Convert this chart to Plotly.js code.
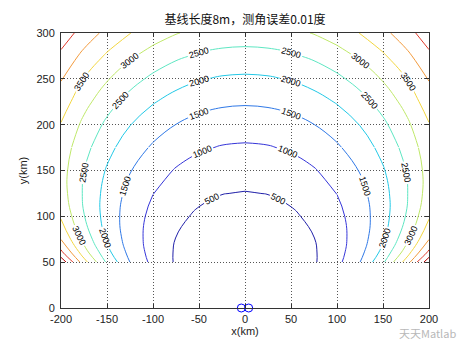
<!DOCTYPE html>
<html>
<head>
<meta charset="utf-8">
<script src="https://cdn.plot.ly/plotly-3.0.1.min.js"></script>
<style>html,body{margin:0;padding:0;background:#fff;}#chart{width:474px;height:354px;}</style>
</head>
<body>
<div id="chart"></div>
<script>
// Grid of x (km) and y (km) positions
var xKm = [-200,-175,-150,-125,-100,-75,-50,-25,0,25,50,75,100,125,150,175,200];
var yKm = [50,60,75,100,125,150,175,200,225,250,275,300];
// Position error (m) read/estimated from the reference contours, one row per y
var errRows = [
  [5377,3700,2426,1498,858,449,217,107,77,107,217,449,858,1498,2426,3700,5377],
  [4656,3238,2157,1363,811,453,244,140,110,140,244,453,811,1363,2157,3238,4656],
  [3988,2824,1930,1267,799,488,300,202,173,202,300,488,799,1267,1930,2824,3988],
  [3431,2513,1798,1259,868,599,429,336,307,336,429,599,868,1259,1798,2513,3431],
  [3221,2442,1828,1356,1007,760,599,509,480,509,599,760,1007,1356,1828,2442,3221],
  [3197,2505,1953,1523,1199,965,809,719,690,719,809,965,1199,1523,1953,2505,3197],
  [3291,2658,2147,1744,1436,1210,1057,969,940,969,1057,1210,1436,1744,2147,2658,3291],
  [3472,2880,2397,2013,1715,1495,1344,1256,1228,1256,1344,1495,1715,2013,2397,2880,3472],
  [3759,3159,2697,2326,2036,1820,1670,1582,1554,1582,1670,1820,2036,2326,2697,3159,3759],
  [4028,3488,3042,2680,2396,2183,2034,1947,1918,1947,2034,2183,2396,2680,3042,3488,4028],
  [4388,3865,3430,3076,2796,2584,2437,2350,2321,2350,2437,2584,2796,3076,3430,3865,4388],
  [4795,4285,3860,3511,3235,3025,2878,2791,2762,2791,2878,3025,3235,3511,3860,4285,4795]
];
// Contour levels and their line colours
var levels = [500,1000,1500,2000,2500,3000,3500,4000,4500,5000];
var levelColors = ['#1f1fa8','#3535d8','#2f78e6','#22c8e6','#5ee6c2','#bfe86a','#f2d640','#f29a3c','#e23c2c','#b80000'];
// Baseline stations (km)
var stationX = [-4, 4];
var stationY = [0, 0];
var xTicks = [-200,-150,-100,-50,0,50,100,150,200];
var yTicks = [0,50,100,150,200,250,300];
// Tiles [x0, x1, y0, y1] (km) the field is split into, so each line piece gets its own inline label
var tiles = [
  [-200, -100, 50, 175], [-200, -100, 175, 300],
  [-100, 0, 50, 300], [0, 100, 50, 300],
  [100, 200, 50, 175], [100, 200, 175, 300]
];

var lo = levels[0], hi = levels[levels.length-1];
var cscale = levels.map(function(l,i){ return [(l-lo)/(hi-lo), levelColors[i]]; });

function tileTrace(t) {
  var i0 = xKm.indexOf(t[0]), i1 = xKm.indexOf(t[1]);
  var j0 = yKm.indexOf(t[2]), j1 = yKm.indexOf(t[3]);
  return {
    type: 'contour',
    x: xKm.slice(i0, i1 + 1), y: yKm.slice(j0, j1 + 1),
    z: errRows.slice(j0, j1 + 1).map(function(r){ return r.slice(i0, i1 + 1); }),
    zmin: lo, zmax: hi, colorscale: cscale, showscale: false,
    contours: {coloring: 'lines', start: lo, end: hi, size: levels[1]-levels[0],
      showlabels: true, labelfont: {family: 'Liberation Sans, Arial, sans-serif', size: 9, color: '#000'}},
    line: {width: 1, smoothing: 1.3},
    hoverinfo: 'skip'
  };
}
var traces = tiles.map(tileTrace);
traces.push({
  type: 'scatter', mode: 'markers', x: stationX, y: stationY,
  marker: {symbol: 'circle-open', size: 8, color: '#0000ff', line: {width: 1, color: '#0000ff'}},
  cliponaxis: false, hoverinfo: 'skip'
});
var axFont = {family: 'Liberation Sans, Arial, sans-serif', size: 11, color: '#222'};
var gridStyle = {showgrid: true, gridcolor: '#555', griddash: '1px,2px', gridwidth: 1, zeroline: false};
var layout = {
  width: 474, height: 354,
  margin: {l: 61, r: 45, t: 33, b: 46},
  paper_bgcolor: '#fff', plot_bgcolor: '#fff',
  showlegend: false,
  title: {text: '基线长度8m，测角误差0.01度', font: {family: 'Noto Sans CJK SC, sans-serif', size: 12, color: '#111'},
    xref: 'paper', x: 0.5, xanchor: 'center', yref: 'container', y: 0.944, yanchor: 'middle'},
  xaxis: Object.assign({range: [-200, 200], tickvals: xTicks, ticktext: xTicks.map(String), ticks: 'inside', ticklen: 4,
    tickcolor: '#333', showline: true, linecolor: '#333', linewidth: 1, mirror: 'ticks', ticklabelstandoff: 1,
    tickfont: axFont, title: {text: 'x(km)', font: axFont, standoff: 3}}, gridStyle),
  yaxis: Object.assign({range: [0, 300], tickvals: yTicks, ticktext: yTicks.map(String), ticks: 'inside', ticklen: 4,
    tickcolor: '#333', showline: true, linecolor: '#333', linewidth: 1, mirror: 'ticks', ticklabelstandoff: 3,
    tickfont: axFont, title: {text: 'y(km)', font: axFont, standoff: 6}}, gridStyle),
  annotations: [{text: '天天Matlab', xref: 'paper', yref: 'paper', x: 0.997, y: -0.091,
    xanchor: 'center', yanchor: 'middle', showarrow: false,
    font: {family: 'Noto Sans CJK SC, sans-serif', size: 11, color: '#b8b8b8'}}]
};
Plotly.newPlot('chart', traces, layout, {displayModeBar: false, staticPlot: true});
</script>
</body>
</html>
